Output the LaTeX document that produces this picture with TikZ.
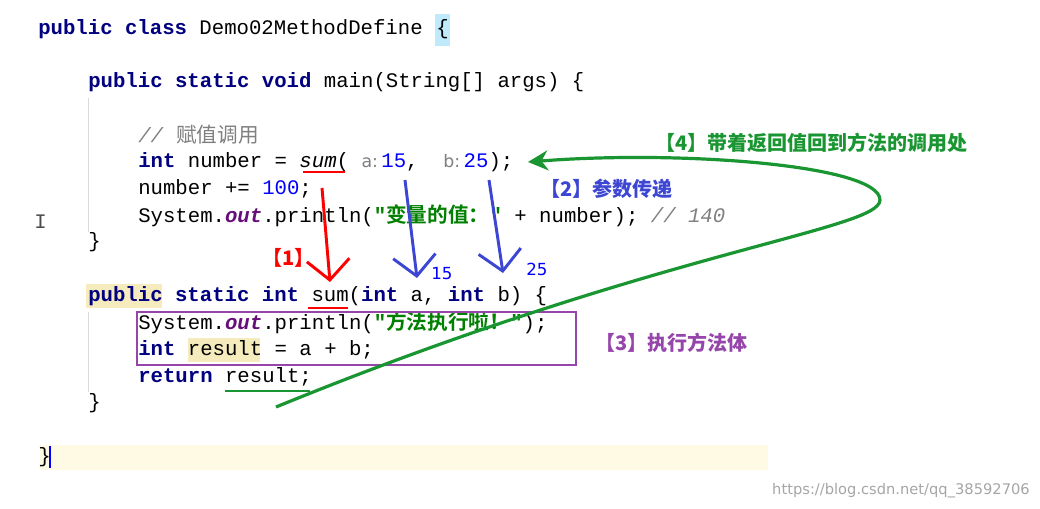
\documentclass[tikz,border=0pt]{standalone}
\usepackage{fontspec}
\setmonofont{Liberation Mono}
\setsansfont{DejaVu Sans}
\newfontfamily\cjk{Noto Sans CJK SC}
\newfontfamily\cjkb{Noto Sans CJK SC}[BoldFont={* Bold}]
\usetikzlibrary{arrows.meta}
\definecolor{kw}{RGB}{0,0,128}
\definecolor{num}{RGB}{0,0,255}
\definecolor{str}{RGB}{0,128,0}
\definecolor{fld}{RGB}{102,14,122}
\definecolor{cmt}{RGB}{128,128,128}
\definecolor{hl}{RGB}{246,235,188}
\definecolor{band}{RGB}{255,250,227}
\definecolor{gr}{RGB}{25,150,50}
\definecolor{bl}{RGB}{60,70,210}
\definecolor{pu}{RGB}{150,70,170}
\newcommand{\K}[1]{\textcolor{kw}{\textbf{#1}}}
\newcommand{\N}[1]{\textcolor{num}{#1}}
\newcommand{\Fo}{\textcolor{fld}{\textbf{\textit{out}}}}
\newcommand{\Hn}[1]{\textcolor{cmt}{\sffamily\fontsize{13}{14}\selectfont #1}}
\tikzset{
 code/.style={anchor=west,inner sep=0pt,font=\ttfamily\fontsize{15.5}{18}\selectfont},
 lab/.style={anchor=west,inner sep=0pt,font=\cjk\bfseries\fontsize{15}{17}\selectfont},
 barb/.style={-{Straight Barb[length=15pt,width=32pt]},line width=2.2pt},
}
\begin{document}
\begin{tikzpicture}[x=0.75pt,y=-0.75pt]
\useasboundingbox (0,0) rectangle (1040,509);
\fill[white] (0,0) rectangle (1040,509);
\fill[band] (40,445) rectangle (768,470);
\draw[black!15] (88,98) -- (88,232);
\draw[black!15] (88,312) -- (88,392);
\fill[hl] (86,284) rectangle (162,308);
\fill[hl] (188,338) rectangle (260,362);
\node[code] (l1) at (38,30) {\K{public class} Demo02MethodDefine \colorbox{cyan!25}{\strut\hspace{-2pt}\{\hspace{-2pt}}};
\node[code] (l2) at (88,82) {\K{public static void} main(String[] args) \{};
\node[code] (l3) at (138,135) {\textcolor{cmt}{\textit{//} {\cjk 赋值调用}}};
\node[code] (l4) at (138,162) {\K{int} number = \textit{sum}( \Hn{a:}\,\N{15},\ \ \Hn{b:}\,\N{25});};
\node[code] (l5) at (138,189) {number += \N{100};};
\node[code] (l6) at (138,216) {System.\Fo.println(\textcolor{str}{\textbf{"{\cjkb\bfseries 变量的值：}"}} + number); \textcolor{cmt}{\textit{// 140}}};
\node[code] (l7) at (88,242) {\}};
\node[code] (l8) at (88,296) {\K{public static int} sum(\K{int} a, \K{int} b) \{};
\node[code] (l9) at (138,323) {System.\Fo.println(\textcolor{str}{\textbf{"{\cjkb\bfseries 方法执行啦！}"}});};
\node[code] (l10) at (138,350) {\K{int} result = a + b;};
\node[code] (l11) at (138,377) {\K{return} result;};
\node[code] (l12) at (88,403) {\}};
\node[code] (l13) at (38,457) {\}};
\draw[num,line width=1.2pt] (50,446) -- (50,468);
\node[code,text=black!70] (cur) at (34,222) {I};
% red
\draw[red,line width=2.2pt] (303,172) -- (345,172);
\draw[red,line width=2.2pt] (308,308) -- (348,308);
\coordinate (r1) at (322,188); \coordinate (r2) at (330,282);
\draw[red,barb] (r1) -- (r2);
\node[lab,text=red] (t1) at (262,258) {【1】};
% blue
\coordinate (b1) at (405,180); \coordinate (b2) at (417,278);
\coordinate (b3) at (489,180); \coordinate (b4) at (503,273);
\draw[bl,barb] (b1) -- (b2);
\draw[bl,barb] (b3) -- (b4);
\node[anchor=west,inner sep=0pt,text=num,font=\sffamily\fontsize{12.5}{14}\selectfont] (n15) at (431,274) {15};
\node[anchor=west,inner sep=0pt,text=num,font=\sffamily\fontsize{12.5}{14}\selectfont] (n25) at (526,269) {25};
\node[lab,text=bl] (t2) at (540,189) {【2】参数传递};
% purple
\draw[pu,line width=2.2pt] (137,312) rectangle (576,365);
\node[lab,text=pu] (t3) at (595,343) {【3】执行方法体};
% green
\draw[gr,line width=2.2pt] (225,391) -- (310,391);
\coordinate (g1) at (276,407); \coordinate (g2) at (528,162);
\draw[gr,line width=2.4pt,-{Stealth[length=15pt,width=15pt]}] (g1) .. controls (660,250) and (880,230) .. (880,200) .. controls (880,165) and (680,150) .. (g2);
\node[lab,text=gr] (t4) at (655,143) {【4】带着返回值回到方法的调用处};
\node[anchor=east,inner sep=0pt,text=black!35,font=\sffamily\fontsize{11}{13}\selectfont] (wm) at (1030,491) {https://blog.csdn.net/qq\_38592706};
\end{tikzpicture}
\end{document}
